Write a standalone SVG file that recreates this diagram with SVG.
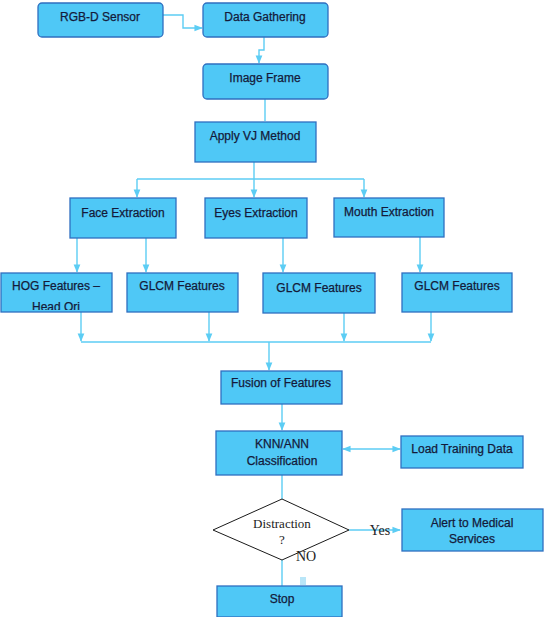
<svg xmlns="http://www.w3.org/2000/svg" width="544" height="617" viewBox="0 0 544 617">
<style>
.box{fill:#4fc8f6;stroke:#2f6fc0;stroke-width:1.3}
.t{font-family:"Liberation Sans",Arial,sans-serif;font-size:12px;fill:#141a3a;stroke:#141a3a;stroke-width:0.25;text-anchor:middle}
.s{font-family:"Liberation Serif","Times New Roman",serif;font-size:13px;fill:#222;text-anchor:middle}
.l{font-family:"Liberation Serif","Times New Roman",serif;font-size:14px;fill:#222;text-anchor:middle}
.c{fill:none;stroke:#5ccdf4;stroke-width:1.4}
</style>
<defs>
<marker id="a" viewBox="0 0 10 10" refX="9" refY="5" markerWidth="6" markerHeight="6" orient="auto-start-reverse">
<path d="M0,1 L10,5 L0,9 z" fill="#5ccdf4"/>
</marker>
<clipPath id="hogclip"><rect x="1" y="273" width="111" height="37"/></clipPath>
</defs>
<rect width="544" height="617" fill="#ffffff"/>
<g id="connectors">
<path class="c" d="M163,15 H183 V28 H202" marker-end="url(#a)"/>
<path class="c" d="M264,37 V50 H259 V63" marker-end="url(#a)"/>
<path class="c" d="M265,99 V121"/>
<path class="c" d="M254,162 V179"/>
<path class="c" d="M137,179 H364"/>
<path class="c" d="M137,179 V197" marker-end="url(#a)"/>
<path class="c" d="M254,179 V197" marker-end="url(#a)"/>
<path class="c" d="M364,179 V197" marker-end="url(#a)"/>
<path class="c" d="M77,238 V272" marker-end="url(#a)"/>
<path class="c" d="M146,238 V272" marker-end="url(#a)"/>
<path class="c" d="M283,238 V272" marker-end="url(#a)"/>
<path class="c" d="M420,237 V272" marker-end="url(#a)"/>
<path class="c" d="M81,312 V341" marker-end="url(#a)"/>
<path class="c" d="M209,312 V341" marker-end="url(#a)"/>
<path class="c" d="M344,313 V341" marker-end="url(#a)"/>
<path class="c" d="M431,312 V341" marker-end="url(#a)"/>
<path class="c" d="M81,342 H431"/>
<path class="c" d="M269,342 V370" marker-end="url(#a)"/>
<path class="c" d="M282,404 V430" marker-end="url(#a)"/>
<path class="c" d="M343,449 H400" marker-start="url(#a)" marker-end="url(#a)"/>
<path class="c" d="M282,475 V499"/>
<path class="c" d="M349,530 H400" marker-end="url(#a)"/>
<path class="c" d="M282,560 V586"/>
</g>
<g id="rgbd"><rect class="box" x="38" y="3" width="125" height="34" rx="4"/><text class="t" x="100" y="21">RGB-D Sensor</text></g>
<g id="gather"><rect class="box" x="203" y="3" width="125" height="34" rx="4"/><text class="t" x="265" y="21">Data Gathering</text></g>
<g id="frame"><rect class="box" x="203" y="64" width="125" height="35" rx="4"/><text class="t" x="265" y="82">Image Frame</text></g>
<g id="vj"><rect class="box" x="195" y="122" width="121" height="40"/><text class="t" x="255" y="140">Apply VJ Method</text></g>
<g id="face"><rect class="box" x="70" y="198" width="106" height="40"/><text class="t" x="123" y="217">Face Extraction</text></g>
<g id="eyes"><rect class="box" x="205" y="198" width="102" height="40"/><text class="t" x="256" y="217">Eyes Extraction</text></g>
<g id="mouth"><rect class="box" x="334" y="198" width="110" height="39"/><text class="t" x="389" y="216">Mouth Extraction</text></g>
<g id="hog"><rect class="box" x="1" y="273" width="111" height="39"/><g clip-path="url(#hogclip)"><text class="t" x="56" y="290">HOG Features –</text><text class="t" x="56" y="311">Head Ori</text></g></g>
<g id="glcm1"><rect class="box" x="127" y="273" width="111" height="39"/><text class="t" x="182" y="290">GLCM Features</text></g>
<g id="glcm2"><rect class="box" x="263" y="273" width="112" height="40"/><text class="t" x="319" y="292">GLCM Features</text></g>
<g id="glcm3"><rect class="box" x="402" y="273" width="110" height="39"/><text class="t" x="457" y="290">GLCM Features</text></g>
<g id="fusion"><rect class="box" x="221" y="371" width="121" height="33"/><text class="t" x="281" y="387">Fusion of Features</text></g>
<g id="knn"><rect class="box" x="216" y="431" width="126" height="44"/><text class="t" x="282" y="448">KNN/ANN</text><text class="t" x="282" y="465">Classification</text></g>
<g id="load"><rect class="box" x="401" y="436" width="122" height="32"/><text class="t" x="462" y="453">Load Training Data</text></g>
<g id="decision"><polygon points="282,499 349,530 282,560 213,530" fill="#ffffff" stroke="#1a1a1a" stroke-width="1"/><text class="s" x="282" y="528">Distraction</text><text class="s" x="282" y="544">?</text></g>
<g id="alert"><rect class="box" x="402" y="509" width="141" height="42"/><text class="t" x="472" y="527">Alert to Medical</text><text class="t" x="472" y="543">Services</text></g>
<g id="stop"><rect class="box" x="217" y="586" width="125" height="31"/><text class="t" x="282" y="603">Stop</text></g>
<g id="labels"><text class="l" x="380" y="535">Yes</text><text class="l" x="306" y="561">NO</text><rect x="300" y="577" width="6" height="8" fill="#b9e6f8"/></g>
</svg>
